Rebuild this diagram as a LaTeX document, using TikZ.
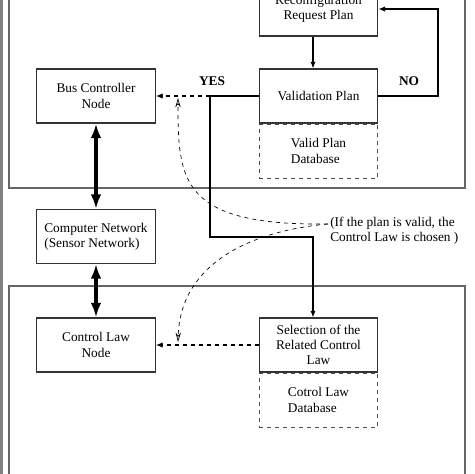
\documentclass[tikz,border=0pt]{standalone}
\usepackage{fontspec}
\setmainfont{Liberation Serif}
\usetikzlibrary{arrows.meta,positioning}

\begin{document}
\begin{tikzpicture}[x=0.75pt, y=-0.75pt,
    every node/.style={font=\fontsize{10}{11.5}\selectfont},
    box/.style={draw=black!80, line width=0.8pt, minimum width=89pt, minimum height=40.5pt, inner sep=1pt, align=center},
    dbbox/.style={draw=black!70, dashed, line width=0.8pt, minimum width=89pt, minimum height=40.5pt, inner sep=1pt, align=left},
    flow/.style={line width=0.9pt, -{Latex[length=5pt,width=4pt]}},
    link/.style={line width=2.6pt, {Latex[length=11pt,width=8pt]}-{Latex[length=11pt,width=8pt]}},
    hint/.style={dashed, line width=0.5pt, -{Stealth[open,length=7pt,width=4pt]}}]
    \useasboundingbox (0,0) rectangle (474,474);
    \clip (0,0) rectangle (474,474);
    \fill[black!50] (0,0) rectangle (2.5,474);
    % Frames: planning side and control side
    \draw[black!60, line width=1.2pt] (9,-10) rectangle (465,188);
    \draw[black!60, line width=1.2pt] (9,286) rectangle (465,490);
    % Planning side
    \node[box] (recon) at (318.5,9) {Reconfiguration\\Request Plan};
    \node[box] (valid) at (318.5,96) {Validation Plan};
    \node[dbbox, below=0pt of valid] (validdb) {Valid Plan\\Database};
    \node[box] (bus) at (96,96) {Bus Controller\\Node};
    \node (yes) at (212,81) {\textbf{YES}};
    \node (no) at (409,81) {\textbf{NO}};
    % Network
    \node[box, align=left] (net) at (96,236.5) {Computer Network\\(Sensor Network)};
    \node[align=left, anchor=west, inner sep=0pt] (cond) at (330,231) {(If the plan is valid, the\\Control Law is chosen )};
    % Control side
    \node[box] (law) at (96,345) {Control Law\\Node};
    \node[box] (select) at (318.5,345) {Selection of the\\Related Control\\Law};
    \node[dbbox, below=0pt of select] (lawdb) {Cotrol Law\\Database};
    % Bend points
    \coordinate (yj) at (210,96);
    \coordinate (jx) at (313,237);
    \coordinate (nx) at (438,9);
    \coordinate (meet) at (328,224);
    \coordinate (up) at (178,98);
    \coordinate (down) at (178,342);
    % Connectors
    \draw[flow] (recon.south -| jx) -- (valid.north -| jx);
    \draw[flow] (valid.east) -| (nx) -- (recon.east);
    \draw[line width=0.9pt] (valid.west) -- (yj);
    \draw[flow, dashed] (yj) -- (bus.east);
    \draw[flow] (yj) |- (jx) -- (select.north -| jx);
    \draw[flow, dashed] (select.west) -- (law.east);
    \draw[link] (bus.south) -- (net.north);
    \draw[link] (net.south) -- (law.north);
    \draw[hint] (meet) .. controls (180,226) and (178,180) .. (up);
    \draw[hint] (meet) .. controls (240,232) and (180,270) .. (down);
\end{tikzpicture}
\end{document}
